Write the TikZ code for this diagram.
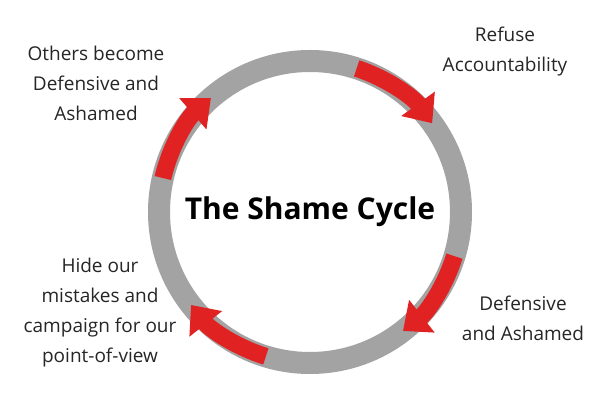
\documentclass[tikz,border=0pt]{standalone}
\usepackage{fontspec}
\setmainfont{Open Sans}
\usetikzlibrary{arrows.meta}
\definecolor{ringgray}{HTML}{A3A3A3}
\definecolor{arred}{HTML}{E02222}
\tikzset{
  lbl/.style={align=center,font=\fontsize{19}{30}\selectfont,text=black!85},
  arr/.style={arred,line width=17pt,-{Triangle[length=24pt,width=40pt]}},
}
\begin{document}
\begin{tikzpicture}[x=1pt,y=1pt]
\useasboundingbox (0,0) rectangle (600,420);
\fill[white] (0,0) rectangle (600,420);
\coordinate (c) at (310,208);
\draw[ringgray,line width=22pt] (c) circle[radius=151];
\draw[arr] ([shift={(72:151)}]c) arc[start angle=72,end angle=36,radius=151];
\draw[arr] ([shift={(-17:151)}]c) arc[start angle=-17,end angle=-52,radius=151];
\draw[arr] ([shift={(-107:151)}]c) arc[start angle=-107,end angle=-142,radius=151];
\draw[arr] ([shift={(167:151)}]c) arc[start angle=167,end angle=131,radius=151];
\node[font=\fontsize{30}{36}\selectfont\bfseries] (t) at (c) {The Shame Cycle};
\node[lbl] (a) at (505,368) {Refuse\\Accountability};
\node[lbl] (b) at (523,102) {Defensive\\and Ashamed};
\node[lbl] (d) at (100,107) {Hide our\\mistakes and\\campaign for our\\point-of-view};
\node[lbl] (e) at (96,337) {Others become\\Defensive and\\Ashamed};
\end{tikzpicture}
\end{document}
